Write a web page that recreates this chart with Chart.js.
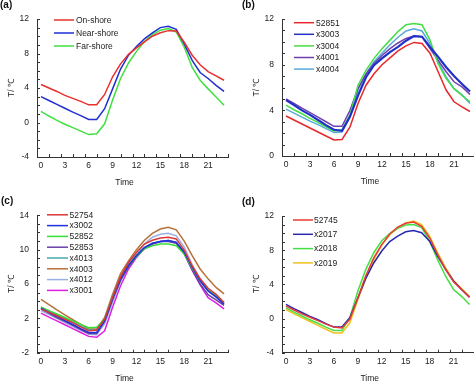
<!DOCTYPE html>
<html><head><meta charset="utf-8">
<script src="https://cdn.jsdelivr.net/npm/chart.js@4.4.1/dist/chart.umd.min.js"></script>
<style>
html,body{margin:0;padding:0;background:#fff;width:474px;height:382px;overflow:hidden;}
canvas{position:absolute;}
</style></head><body>
<canvas id="ca" width="237" height="191" style="left:0;top:0"></canvas>
<canvas id="cb" width="237" height="191" style="left:237px;top:0"></canvas>
<canvas id="cc" width="237" height="191" style="left:0;top:191px"></canvas>
<canvas id="cd" width="237" height="191" style="left:237px;top:191px"></canvas>
<script>
// ---------- data ----------
const hours = [0,1,2,3,4,5,6,7,8,9,10,11,12,13,14,15,16,17,18,19,20,21,22,23];
const xTickLabels = [0,3,6,9,12,15,18,21];
const yTicksA = [-4,0,4,8,12];
const yTicksB = [0,4,8,12];
const yTicksC = [-2,2,6,10,14];
const yTicksD = [-4,0,4,8,12];

// (a)
const aOnShore   = [4.4,4.0,3.6,3.15,2.8,2.45,2.05,2.05,3.25,5.3,6.8,7.9,8.65,9.35,10.0,10.4,10.65,10.6,9.3,7.8,6.7,5.9,5.4,4.9];
const aNearShore = [3.0,2.55,2.1,1.65,1.2,0.8,0.35,0.35,1.6,3.9,6.2,7.8,8.8,9.7,10.4,11.0,11.15,10.8,9.1,7.2,5.8,5.1,4.3,3.6];
const aFarShore  = [1.3,0.75,0.25,-0.2,-0.6,-1.0,-1.4,-1.3,-0.15,2.6,5.1,6.9,8.25,9.4,10.2,10.7,10.9,10.5,8.75,6.4,4.9,3.9,2.95,2.0];

// (b)
const b52851 = [3.5,3.15,2.8,2.45,2.1,1.75,1.4,1.45,2.55,4.6,6.2,7.2,8.0,8.6,9.2,9.65,9.95,9.85,9.0,7.4,5.8,4.75,4.3,3.9];
const bx3003 = [4.9,4.45,4.0,3.6,3.15,2.7,2.3,2.2,3.45,5.3,6.9,7.95,8.55,9.1,9.55,10.1,10.5,10.45,9.55,8.7,7.8,7.0,6.3,5.65];
const bx3004 = [4.45,4.05,3.7,3.3,2.95,2.55,2.2,2.3,3.6,6.2,7.5,8.55,9.4,10.15,10.9,11.5,11.6,11.5,10.15,8.1,6.8,5.9,5.3,4.75];
const bx4001 = [5.0,4.6,4.2,3.8,3.4,3.0,2.6,2.6,4.0,5.9,7.2,8.1,8.8,9.4,9.9,10.3,10.5,10.45,9.4,8.4,7.4,6.5,6.05,5.4];
const bx4004 = [4.1,3.75,3.4,3.05,2.75,2.4,2.05,2.1,3.45,5.8,7.2,8.25,9.0,9.75,10.4,10.95,11.15,10.95,9.85,8.25,6.95,5.9,5.35,4.6];

// (c)
const c52754 = [3.1,2.7,2.3,1.9,1.5,1.0,0.55,0.65,1.9,4.45,6.85,8.5,9.7,10.65,11.1,11.35,11.45,11.25,9.95,8.1,6.6,5.5,4.8,3.85];
const cx3002 = [3.2,2.7,2.25,1.75,1.3,0.8,0.35,0.35,1.7,4.25,6.6,8.15,9.3,10.25,10.75,10.95,11.05,10.85,9.7,7.95,6.4,5.2,4.5,3.65];
const c52852 = [3.3,2.9,2.5,2.1,1.7,1.3,0.9,0.95,1.9,4.45,6.7,8.15,9.2,10.1,10.45,10.65,10.65,10.45,9.5,7.85,6.4,5.3,4.65,3.85];
const c52853 = [3.1,2.6,2.1,1.65,1.2,0.7,0.25,0.25,1.65,4.25,6.45,8.0,9.2,10.15,10.65,10.95,10.95,10.75,9.5,7.65,6.0,4.75,4.15,3.5];
const cx4013 = [3.3,2.85,2.4,2.0,1.55,1.1,0.65,0.65,1.9,4.5,6.8,8.25,9.4,10.25,10.75,10.95,11.05,10.85,9.7,7.85,6.3,5.2,4.5,3.85];
const cx4003 = [4.2,3.6,3.0,2.4,1.85,1.3,0.75,0.75,2.1,4.8,7.2,8.7,10.0,11.1,11.9,12.4,12.6,12.3,11.0,9.3,7.75,6.6,5.6,4.85];
const cx4012 = [2.9,2.45,2.0,1.5,1.05,0.6,0.15,0.1,1.35,3.85,6.3,8.15,9.4,10.65,11.45,11.8,11.9,11.6,10.3,8.25,6.6,5.3,4.5,3.65];
const cx3001 = [2.6,2.15,1.7,1.25,0.8,0.35,-0.1,-0.2,0.55,3.3,5.8,7.75,9.1,10.1,10.65,10.95,11.05,10.85,9.6,7.6,5.9,4.4,3.8,3.1];

// (d)
const d52745 = [1.45,1.0,0.55,0.15,-0.25,-0.65,-1.0,-1.1,-0.1,2.4,5.0,7.1,8.65,9.9,10.7,11.15,11.3,10.8,9.45,7.5,5.75,4.3,3.4,2.5];
const dx2017 = [1.65,1.15,0.7,0.25,-0.15,-0.6,-1.0,-1.0,0.1,2.4,4.7,6.5,7.9,9.0,9.65,10.15,10.3,10.05,9.05,7.3,5.75,4.4,3.4,2.5];
const dx2018 = [1.25,0.75,0.3,-0.15,-0.55,-1.0,-1.4,-1.4,0.1,3.2,5.75,7.7,9.1,9.95,10.55,10.95,11.0,10.65,9.05,6.9,4.95,3.4,2.6,1.65];
const dx2019 = [1.05,0.55,0.1,-0.35,-0.8,-1.25,-1.7,-1.7,-0.5,2.2,4.7,6.9,8.6,9.8,10.6,11.2,11.4,11.0,9.65,7.7,5.95,4.45,3.5,2.6];

// ---------- drawing ----------
const FONT = "'Liberation Sans', Arial, sans-serif";
const FS = 8.5;
const W = 237, H = 191;

const decoPlugin = {
  id: 'deco',
  afterDraw(chart) {
    const o = chart.options.plugins.deco;
    const ctx = chart.ctx;
    const xs = chart.scales.x, ys = chart.scales.y;
    const ca = chart.chartArea;
    ctx.save();
    // inward ticks
    ctx.strokeStyle = '#333';
    ctx.lineWidth = 1;
    ctx.beginPath();
    for (let v = ys.min; v <= ys.max + 1e-6; v += 1) {
      const y = Math.round(ys.getPixelForValue(v)) + 0.5;
      ctx.moveTo(ca.left, y); ctx.lineTo(ca.left + 3, y);
    }
    for (let v = xs.min; v <= xs.max + 1e-6; v += 1.5) {
      const x = Math.round(xs.getPixelForValue(v)) + 0.5;
      ctx.moveTo(x, ca.bottom); ctx.lineTo(x, ca.bottom - 3);
    }
    ctx.stroke();
    // x title
    ctx.fillStyle = '#222';
    ctx.font = FS + 'px ' + FONT;
    ctx.textAlign = 'center';
    ctx.textBaseline = 'middle';
    ctx.fillText('Time', xs.getPixelForValue(10.5), ca.bottom + 26);
    // panel label
    ctx.font = 'bold 10px ' + FONT;
    ctx.textAlign = 'left';
    ctx.fillStyle = '#111';
    ctx.fillText(o.panel, o.px, o.py);
    // legend
    ctx.font = FS + 'px ' + FONT;
    chart.data.datasets.forEach((ds, i) => {
      const y = o.ly + i * o.ldy;
      ctx.strokeStyle = ds.borderColor;
      ctx.lineWidth = 1.5;
      ctx.beginPath();
      ctx.moveTo(o.lx1, y); ctx.lineTo(o.lx2, y);
      ctx.stroke();
      ctx.fillStyle = '#222';
      ctx.fillText(ds.label, o.ltx, y + 0.5);
    });
    ctx.restore();
  }
};

function makeChart(id, cfg) {
  const a = cfg.area;
  const padL = cfg.yTitleX - FS * 1.2 / 2;
  const datasets = cfg.series.map(s => ({
    label: s.label,
    data: s.data,
    borderColor: s.color,
    backgroundColor: s.color,
    borderWidth: s.width || 1.5,
    pointRadius: 0,
    tension: 0,
    fill: false,
    clip: false
  }));
  return new Chart(document.getElementById(id), {
    type: 'line',
    data: { labels: hours, datasets },
    options: {
      responsive: false,
      animation: false,
      layout: { padding: { left: padL, top: a.top, right: W - a.right, bottom: 0 } },
      plugins: {
        legend: { display: false },
        tooltip: { enabled: false },
        deco: cfg.deco
      },
      scales: {
        x: {
          type: 'linear',
          min: -0.5, max: 23.5,
          afterBuildTicks: s => { s.ticks = xTickLabels.map(v => ({ value: v })); },
          afterFit: s => { s.height = H - a.bottom; },
          grid: { display: false, drawTicks: false },
          border: { display: true, color: '#333', width: 1 },
          ticks: { autoSkip: false, maxRotation: 0, padding: 4, color: '#222', font: { family: FONT, size: FS } }
        },
        y: {
          type: 'linear',
          min: cfg.yTicks[0], max: cfg.yTicks[cfg.yTicks.length - 1],
          afterBuildTicks: s => { s.ticks = cfg.yTicks.map(v => ({ value: v })); },
          afterFit: s => { s.width = a.left - padL; },
          grid: { display: false, drawTicks: false },
          border: { display: true, color: '#333', width: 1 },
          ticks: { padding: 8, color: '#222', font: { family: FONT, size: FS } },
          title: { display: true, text: 'T/ \u2103', color: '#222', padding: 0, font: { family: FONT, size: FS } }
        }
      }
    },
    plugins: [decoPlugin]
  });
}

makeChart('ca', {
  area: { left: 37, top: 19, right: 228, bottom: 157 },
  yTitleX: 11.5, yTicks: yTicksA,
  series: [
    { label: 'On-shore', data: aOnShore, color: '#e8302f' },
    { label: 'Near-shore', data: aNearShore, color: '#1f2fd0' },
    { label: 'Far-shore', data: aFarShore, color: '#3fe03f' }
  ],
  deco: { panel: '(a)', px: 0, py: 5, lx1: 54, lx2: 74, ltx: 76, ly: 20, ldy: 13 }
});

makeChart('cb', {
  area: { left: 45, top: 19, right: 237, bottom: 156 },
  yTitleX: 19.5, yTicks: yTicksB,
  series: [
    { label: '52851', data: b52851, color: '#e8282a' },
    { label: 'x3003', data: bx3003, color: '#2030c8', width: 2.2 },
    { label: 'x3004', data: bx3004, color: '#44dd44' },
    { label: 'x4001', data: bx4001, color: '#7040b0' },
    { label: 'x4004', data: bx4004, color: '#55aad8' }
  ],
  deco: { panel: '(b)', px: 5, py: 5, lx1: 57, lx2: 77, ltx: 79, ly: 22.7, ldy: 11.6 }
});

makeChart('cc', {
  area: { left: 37, top: 24.3, right: 228, bottom: 161.7 },
  yTitleX: 11.5, yTicks: yTicksC,
  series: [
    { label: '52754', data: c52754, color: '#d83838' },
    { label: 'x3002', data: cx3002, color: '#2030e0' },
    { label: '52852', data: c52852, color: '#35e035' },
    { label: '52853', data: c52853, color: '#6a40a8' },
    { label: 'x4013', data: cx4013, color: '#48aaaa' },
    { label: 'x4003', data: cx4003, color: '#b8703a' },
    { label: 'x4012', data: cx4012, color: '#9ab0e0' },
    { label: 'x3001', data: cx3001, color: '#e020e0' }
  ],
  deco: { panel: '(c)', px: 1, py: 10, lx1: 47, lx2: 68, ltx: 69.5, ly: 23.8, ldy: 10.8 }
});

makeChart('cd', {
  area: { left: 45, top: 25, right: 236.5, bottom: 161.7 },
  yTitleX: 19.5, yTicks: yTicksD,
  series: [
    { label: '52745', data: d52745, color: '#e83a34' },
    { label: 'x2017', data: dx2017, color: '#2828b0' },
    { label: 'x2018', data: dx2018, color: '#44e044' },
    { label: 'x2019', data: dx2019, color: '#f0c020' }
  ],
  deco: { panel: '(d)', px: 5, py: 11, lx1: 56, lx2: 76, ltx: 77, ly: 29, ldy: 14.3 }
});
</script>
</body></html>
